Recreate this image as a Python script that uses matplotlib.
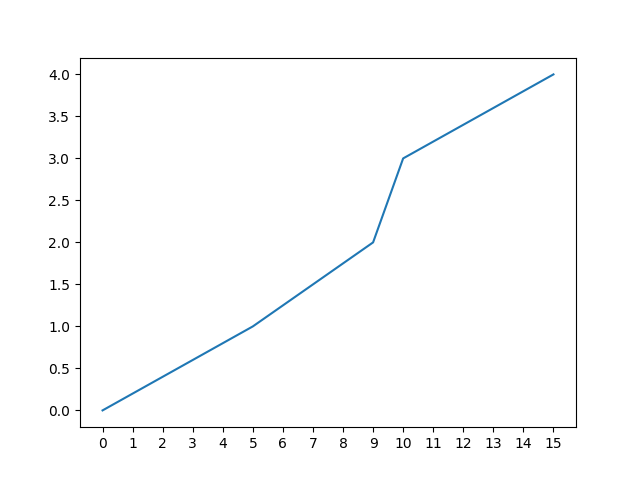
import matplotlib
matplotlib.use("Agg")
import matplotlib.pyplot as plt

x_vals = [0, 5, 9, 10, 15]
y_vals = [0, 1, 2, 3, 4]
x_ticks = list(range(0, 16))

fig, ax = plt.subplots(figsize=(6.4, 4.8), dpi=100)
ax.plot(x_vals, y_vals)
ax.set_xticks(x_ticks)

fig.savefig("out.png")
